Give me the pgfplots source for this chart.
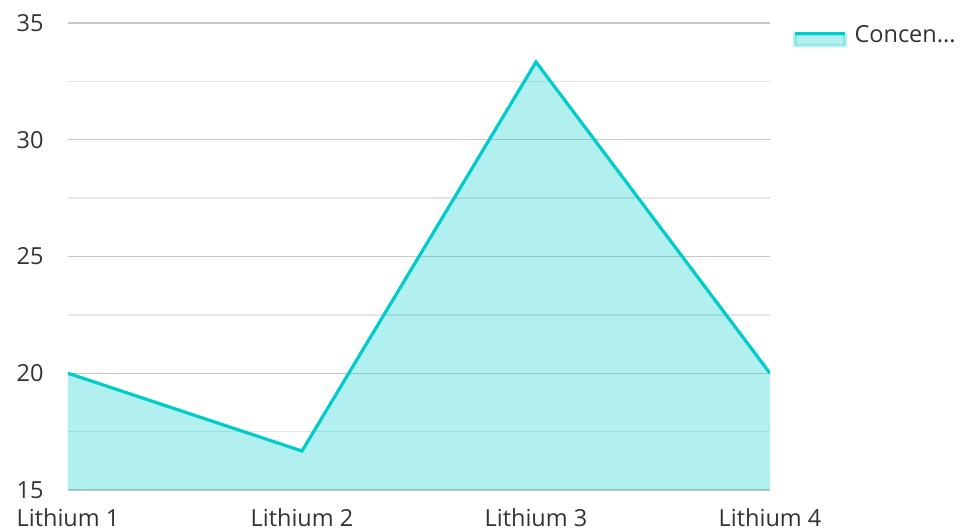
\documentclass[border=0pt]{standalone}
\usepackage{fontspec}
\setmainfont{Open Sans}
\usepackage{pgfplots}
\pgfplotsset{compat=1.18}
\definecolor{turq}{HTML}{00CCCC}
\definecolor{tickc}{HTML}{333333}
\begin{document}
\begin{tikzpicture}[x=1pt,y=1pt]
\path[use as bounding box] (0,0) rectangle (962,531);
\begin{axis}[
  at={(68pt,41pt)}, anchor=south west,
  scale only axis, width=702pt, height=467pt,
  xmin=0, xmax=3, ymin=15, ymax=35,
  xtick={0,1,2,3},
  xticklabels={Lithium 1,Lithium 2,Lithium 3,Lithium 4},
  ytick={15,20,25,30,35},
  minor ytick={17.5,22.5,27.5,32.5},
  ymajorgrids, yminorgrids,
  major grid style={draw=black!22, line width=1.3pt},
  minor grid style={draw=black!10, line width=1.3pt},
  axis line style={draw=none},
  tick style={draw=none},
  tick label style={font=\fontsize{23.5}{27}\selectfont, text=tickc},
  /pgf/number format/assume math mode=true,
  xticklabel style={yshift=-15pt},
  yticklabel style={xshift=-21pt},
  legend style={at={(1.033,0.974)}, anchor=west, draw=none, fill=none, inner sep=0pt,
    font=\fontsize{23.5}{27}\selectfont, text=tickc},
  legend cell align=left,
  legend image code/.code={
    \fill[turq, opacity=0.3] (0pt,-11pt) rectangle (50pt,0pt);
    \draw[turq, line width=3.2pt] (0pt,1pt) -- (50pt,1pt);
    \path (56pt,0pt);
  },
]
\addplot[draw=none, fill=turq, fill opacity=0.3, forget plot] coordinates {(0,20) (1,16.67) (2,33.33) (3,20)} \closedcycle;
\addplot[draw=turq, line width=3.2pt, mark=none] coordinates {(0,20) (1,16.67) (2,33.33) (3,20)};
\addlegendentry{Concen...}
\end{axis}
\end{tikzpicture}
\end{document}
